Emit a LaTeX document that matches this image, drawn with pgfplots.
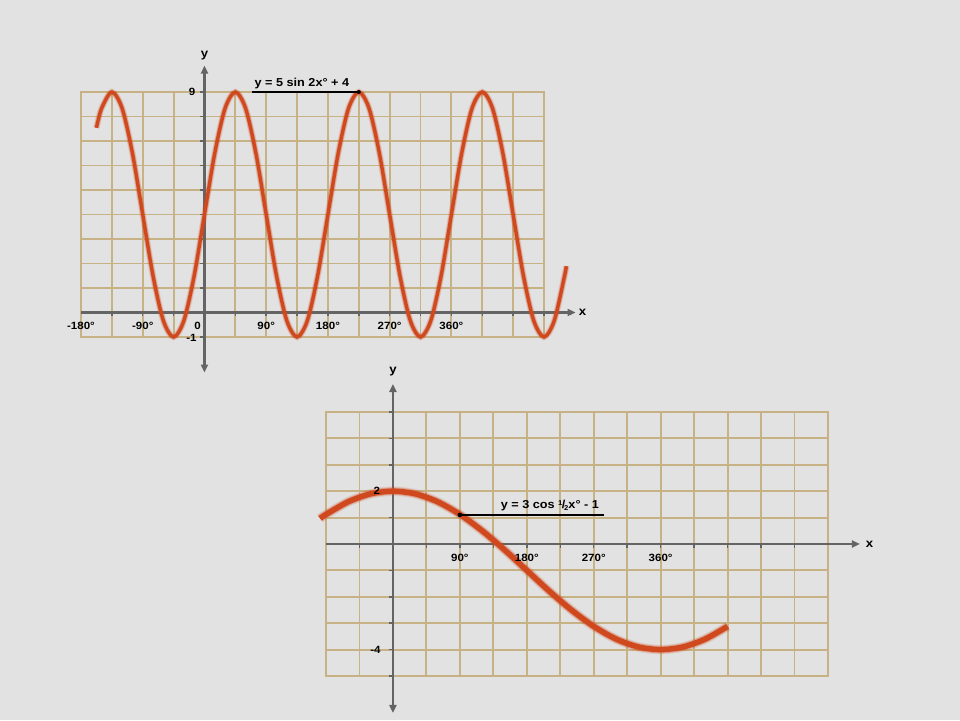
\documentclass[border=0pt]{standalone}
\usepackage{pgfplots}
\pgfplotsset{compat=1.18}
\usepackage{pgfplotstable}
\usepackage{fontspec}
\setmainfont{Liberation Sans}[FakeStretch=1.1]
\usetikzlibrary{arrows.meta}

\definecolor{bg}{RGB}{226,226,226}
\definecolor{gridtan}{RGB}{199,178,134}
\definecolor{axgray}{RGB}{100,100,100}
\definecolor{wave}{RGB}{208,72,30}

% y = 5 sin 2x + 4
\pgfplotstableread{
x      y
-157.5 7.54
-150   8.33
-135   9
-120   8.33
-105   6.5
-90    4
-75    1.5
-60   -0.33
-45   -1
-30   -0.33
-15    1.5
0      4
15     6.5
30     8.33
45     9
60     8.33
75     6.5
90     4
105    1.5
120   -0.33
135   -1
150   -0.33
165    1.5
180    4
195    6.5
210    8.33
225    9
240    8.33
255    6.5
270    4
285    1.5
300   -0.33
315   -1
330   -0.33
345    1.5
360    4
375    6.5
390    8.33
405    9
420    8.33
435    6.5
450    4
465    1.5
480   -0.33
495   -1
510   -0.33
525    1.5
527.5  1.89
}\sinedata

% y = 3 cos x/2 - 1
\pgfplotstableread{
x    y
-98  0.97
-90  1.12
-60  1.60
-30  1.90
0    2
30   1.90
60   1.60
90   1.12
120  0.5
150 -0.22
180 -1
210 -1.78
240 -2.5
270 -3.12
300 -3.60
330 -3.90
360 -4
390 -3.90
420 -3.60
450 -3.12
}\cosdata

\pgfplotsset{
  gridpaper/.style={
    scale only axis, clip=false, anchor=south west,
    axis line style={draw=gridtan, line width=1.9pt},
    major grid style={draw=gridtan, line width=1.9pt},
    grid=major, tick style={draw=none},
    xticklabel={\relax}, yticklabel={\relax},
  },
}
\tikzset{
  lbl/.style={font=\bfseries\fontsize{10.5}{12}\selectfont, inner sep=0pt},
  eq/.style={font=\bfseries\fontsize{11.5}{13}\selectfont, inner sep=0pt},
  axname/.style={font=\bfseries\fontsize{12}{14}\selectfont, inner sep=0pt},
  axl/.style={axgray, line width=2.3pt},
  tk/.style={axgray, line width=1.5pt},
  tip/.tip={Triangle[length=8pt,width=7pt]},
}

\begin{document}
\begin{tikzpicture}
\fill[bg] (0pt,0pt) rectangle (960pt,720pt);

% upper graph
\begin{axis}[gridpaper, at={(81pt,383pt)}, width=463pt, height=245pt,
  xmin=-180, xmax=495, ymin=-1, ymax=9,
  xtick={-180,-135,...,495}, ytick={-1,0,...,9}]
  \draw[axl, -tip] (-180,0) -- (541,0);
  \draw[axl, tip-tip] (0,-2.45) -- (0,10.08);
  \pgfplotsinvokeforeach{-135,-90,...,495}{\draw[tk] (#1,0) -- ++(0pt,-4pt);}
  \pgfplotsinvokeforeach{-1,1,2,...,9}{\draw[tk] (0,#1) -- ++(-4pt,0pt);}
  \addplot[draw=wave, line width=6.5pt, opacity=0.15, smooth] table {\sinedata};
  \addplot[draw=wave, line width=5pt, opacity=0.3, smooth] table {\sinedata};
  \addplot[draw=wave, line width=3.4pt, smooth] table {\sinedata};
  \draw[black, line width=1.4pt] (70,9) -- (225,9);
  \fill[black] (225,9) circle (2pt);
  \node[eq, anchor=south] at (142,9) [yshift=3pt] {y = 5 sin 2x° + 4};
  \node[lbl] at (-180,0) [yshift=-13pt] {-180°};
  \node[lbl] at (-90,0) [yshift=-13pt] {-90°};
  \node[lbl] at (-10,0) [yshift=-13pt] {0};
  \node[lbl] at (90,0) [yshift=-13pt] {90°};
  \node[lbl] at (180,0) [yshift=-13pt] {180°};
  \node[lbl] at (270,0) [yshift=-13pt] {270°};
  \node[lbl] at (360,0) [yshift=-13pt] {360°};
  \node[lbl] at (0,9) [xshift=-12.5pt] {9};
  \node[lbl] at (0,-1) [xshift=-13pt, yshift=-1pt] {-1};
  \node[axname] at (551,0) {x};
  \node[axname] at (0,10.49) {y};
\end{axis}

% lower graph
\begin{axis}[gridpaper, at={(326pt,44pt)}, width=502pt, height=264pt,
  xmin=-90, xmax=585, ymin=-5, ymax=5,
  xtick={-90,-45,...,585}, ytick={-5,-4,...,5}]
  \draw[axl, -tip] (-90,0) -- (628,0);
  \draw[axl, tip-tip] (0,-6.4) -- (0,6.06);
  \pgfplotsinvokeforeach{-45,0,...,540}{\draw[tk] (#1,0) -- ++(0pt,-4pt);}
  \pgfplotsinvokeforeach{-5,-4,...,5}{\draw[tk] (0,#1) -- ++(-4pt,0pt);}
  \addplot[draw=wave, line width=9.5pt, opacity=0.15, smooth] table {\cosdata};
  \addplot[draw=wave, line width=7.5pt, opacity=0.3, smooth] table {\cosdata};
  \addplot[draw=wave, line width=5.5pt, smooth] table {\cosdata};
  \draw[black, line width=1.4pt] (90,1.1) -- (284,1.1);
  \fill[black] (90,1.1) circle (2.3pt);
  \node[eq, anchor=south] at (211,1.1) [yshift=4pt]
    {y = 3 cos \raisebox{3pt}{\fontsize{7}{8}\selectfont 1}\kern-0.6pt/\kern-1.2pt\raisebox{-2.5pt}{\fontsize{7}{8}\selectfont 2}x° - 1};
  \node[lbl] at (90,0) [yshift=-14pt] {90°};
  \node[lbl] at (180,0) [yshift=-14pt] {180°};
  \node[lbl] at (270,0) [yshift=-14pt] {270°};
  \node[lbl] at (360,0) [yshift=-14pt] {360°};
  \node[lbl] at (0,2) [xshift=-16pt] {2};
  \node[lbl] at (0,-4) [xshift=-17.5pt] {-4};
  \node[axname] at (641,0) {x};
  \node[axname] at (0,6.52) {y};
\end{axis}
\end{tikzpicture}
\end{document}
